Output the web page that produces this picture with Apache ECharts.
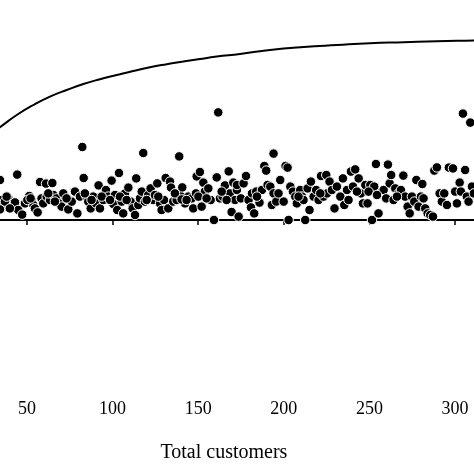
<!DOCTYPE html>
<html>
<head>
<meta charset="utf-8">
<title>Total customers</title>
<script src="https://cdn.jsdelivr.net/npm/echarts@6.0.0/dist/echarts.min.js"></script>
<style>
  html, body { margin: 0; padding: 0; background: #fff; }
  #main { width: 474px; height: 474px; }
</style>
</head>
<body>
<div id="main"></div>
<script>
/*#############  数据  ###############*/
// 散点：横坐标（客户数）
var pointX = [
  34.2, 35.2, 36.1, 37.7, 39.1, 37.1, 34.2, 43, 44.3, 44.9, 47.2, 48.8, 51.3, 52.7, 53.7, 54.6,
  56.2, 57.6, 58.5, 59.5, 61.1, 61.5, 63.4, 64.8, 65.4, 67.3, 68.9, 70.2, 72.2, 74.1, 76.1, 78,
  79.4, 80.9, 82.3, 83.1, 84.8, 85.8, 87.2, 88.7, 90.3, 91.8, 92.6, 94.6, 96.1, 97.5, 99.4, 100.4,
  101.4, 102.7, 103.7, 105.3, 106.2, 107.2, 109.2, 110.5, 111.7, 113.1, 113.8, 115, 116, 117,
  117.9, 118.9, 120.8, 122.2, 123.8, 126.1, 127.7, 128.6, 130, 131, 132.5, 133.5, 134.1, 135.4,
  137.4, 138.9, 139.3, 140.7, 142.3, 144.2, 146.2, 147.1, 148.7, 149.1, 151, 152, 153, 153.9,
  155.9, 157.3, 159.2, 160.8, 161.7, 162.7, 164.3, 165.6, 167.8, 168.5, 169.5, 170.5, 171.5, 172.6,
  38.1, 40.0, 50.2, 52.1, 62.4, 66.3, 71.2, 73.1, 83.8, 87.7, 93.6, 98.5, 104.3, 108.2, 119.9,
  124.7, 126.7, 136.4, 140.3, 143.2, 150.1, 154.9, 163.7, 166.6,
  172.6, 173.6, 174.9, 176.5, 177.9, 179.4, 180.8, 181.4, 182.7, 183.9, 185.8, 187.2, 188.6, 189.7,
  190.5, 192.1, 193.0, 194.0, 194.0, 195.6, 196.9, 197.9, 199.9, 201.0, 202.2, 202.8, 203.8, 205.3,
  206.7, 207.6, 209.6, 210.6, 211.5, 212.5, 213.9, 215.0, 215.8, 217.4, 218.9, 220.3, 221.7, 223.2,
  224.8, 225.2, 226.7, 228.1, 229.6, 231.0, 233.0, 234.5, 235.3, 236.9, 237.8, 239.2, 240.4, 241.7,
  243.7, 245.0, 246.2, 247.6, 248.9, 250.5, 251.5, 252.8, 253.8, 255.3, 256.3, 258.3, 259.8, 260.8,
  261.8, 262.7, 264.1, 265.1, 267.0, 268.4, 269.8, 270.9, 272.3, 273.5, 274.8, 276.2, 277.4, 278.7,
  280.1, 280.9, 282.6, 284.0, 285.5, 287.1, 287.9, 289.4, 291.0, 292.3, 293.7, 295.3, 296.4, 298.8,
  300.1, 301.1, 302.7, 303.4, 304.6, 305.9, 306.9, 307.9, 308.9, 309.9, 311.0,
  184.3, 208.6, 221.3, 242.7, 249.5, 254.4, 266.1, 281.6
];
// 散点：纵坐标
var pointY = [
  20, 10, 7.5, 6.7, 10.8, 9.2, 5.3, 8.8, 22.7, 5, 2.7, 8.3, 12, 10, 7.5, 5.8,
  3.8, 19, 10.8, 8.3, 18.2, 11.7, 10, 18.5, 12.5, 10.8, 8.3, 6.7, 11.7, 5.3, 9.2, 14.2,
  3.3, 11.7, 36.5, 21, 11.7, 9.2, 5.8, 11.7, 8.3, 17.3, 5.8, 10, 15, 11.7, 19.7, 8,
  12.5, 5, 23.5, 9.2, 3.3, 13.3, 16.2, 9.2, 5.8, 2.5, 20.8, 7.5, 10.8, 14.2,
  33.5, 9.2, 12.5, 15.8, 10, 18.3, 8.3, 5, 10, 21, 5.8, 19.2, 16.2, 9.2,
  10, 31.8, 12.5, 16.3, 8.3, 11.7, 10.8, 5.8, 13.3, 21.8, 24, 6.7, 18.7, 14.2,
  15.8, 10, 0, 21.3, 53.8, 10.8, 11.7, 17.3, 24.3, 13.3, 4, 18.7, 10, 15,
  11.7, 5.8, 10, 10.8, 13.3, 9.2, 13.3, 10.8, 13.3, 10, 11.7, 10, 11.7, 10, 10,
  12.5, 11.7, 13.3, 10.3, 10, 11.7, 10.8, 14.2, 10,
  17.5, 1.7, 10.8, 18.3, 22, 10, 6.3, 13.3, 3.3, 14.2, 8.7, 15, 27, 24.7,
  17.5, 16.7, 7.5, 33.2, 13.3, 9.2, 13.3, 20, 9.2, 27, 26.2, 0, 16.7, 14.2,
  11.7, 8.3, 15, 11.7, 10, 0, 15.8, 5, 19.2, 11.7, 15, 10, 22, 11.7,
  22.5, 13.3, 19.2, 15, 5.8, 16.7, 11.7, 20.8, 7.5, 15, 10, 24.2, 16.7, 25.3,
  20.8, 13.3, 8.3, 17.5, 8.3, 17.5, 0, 16.7, 28, 3.3, 13.3, 15, 10.8, 27.7,
  18.3, 22.5, 10, 15.8, 13.3, 15, 22.2, 11.7, 6.7, 3.3, 11.7, 9.2, 20, 6.7,
  11.7, 18, 5.8, 3.3, 2.5, 1.7, 24.7, 26.3, 13.3, 9.2, 13.3, 7.5, 26.2, 25.8,
  14.2, 8.3, 18.7, 14.2, 53.2, 25, 11.7, 9.2, 48.7, 16.7, 13.3,
  11.7, 11.7, 13.3, 14.2, 14.2, 12.5, 11.7, 10.8
];
// 曲线
var curveX = [30, 34.2, 44.0, 53.7, 63.4, 73.2, 82.9, 92.6, 102.4, 112.0, 121.8, 131.6, 141.2,
  151.0, 160.8, 174.4, 191.9, 211.7, 231.0, 250.3, 270.1, 289.4, 311.0, 320];
var curveY = [44, 46.4, 52.5, 57.5, 61.7, 65, 68, 70.4, 72.5, 74.5, 76.4, 77.9, 79.2,
  80.5, 81.7, 83, 85, 86.5, 87.5, 88.4, 88.9, 89.4, 89.7, 89.9];
// 横轴刻度
var xMin = 0;
var xMax = 330;
var xStep = 50;

/*#############  绘图  ###############*/
var scatterData = [];
for (var i = 0; i < pointX.length; i++) {
  scatterData.push([pointX[i], pointY[i]]);
}
var curveData = [];
for (var j = 0; j < curveX.length; j++) {
  curveData.push([curveX[j], curveY[j]]);
}

var myChart = echarts.init(document.getElementById("main"));
var option = {
  animation: false,
  backgroundColor: "#fff",
  textStyle: { fontFamily: "Liberation Serif" },
  grid: {
    left: -58.6,
    top: 20,
    width: 565,
    height: 360,
    containLabel: false,
    outerBoundsMode: "none",
  },
  xAxis: [
    {
      // 底部：只显示刻度文字和轴名
      type: "value",
      min: xMin,
      max: xMax,
      interval: xStep,
      position: "bottom",
      axisLine: { show: false, onZero: false },
      axisTick: { show: false },
      splitLine: { show: false },
      axisLabel: { color: "#000", fontSize: 18, margin: 20, fontFamily: "Liberation Serif" },
      name: "Total customers",
      nameLocation: "middle",
      nameGap: 63,
      nameTextStyle: { color: "#000", fontSize: 20, fontFamily: "Liberation Serif" },
    },
    {
      // 零线：横轴线和刻度
      type: "value",
      min: xMin,
      max: xMax,
      interval: xStep,
      position: "bottom",
      axisLine: { show: true, onZero: true, lineStyle: { color: "#000", width: 1.8 } },
      axisTick: { show: true, length: 5, lineStyle: { color: "#000", width: 1.5 } },
      axisLabel: { show: false },
      splitLine: { show: false },
    },
  ],
  yAxis: {
    type: "value",
    min: -80,
    max: 100,
    show: false,
    splitLine: { show: false },
  },
  series: [
    {
      type: "scatter",
      xAxisIndex: 1,
      data: scatterData,
      symbol: "circle",
      symbolSize: 9.5,
      itemStyle: { color: "#000", borderColor: "#fff", borderWidth: 1, opacity: 1 },
    },
    {
      type: "line",
      xAxisIndex: 1,
      data: curveData,
      smooth: true,
      showSymbol: false,
      lineStyle: { color: "#000", width: 2 },
    },
  ],
};
if (option && typeof option === "object") {
  myChart.setOption(option, true);
}
</script>
</body>
</html>
